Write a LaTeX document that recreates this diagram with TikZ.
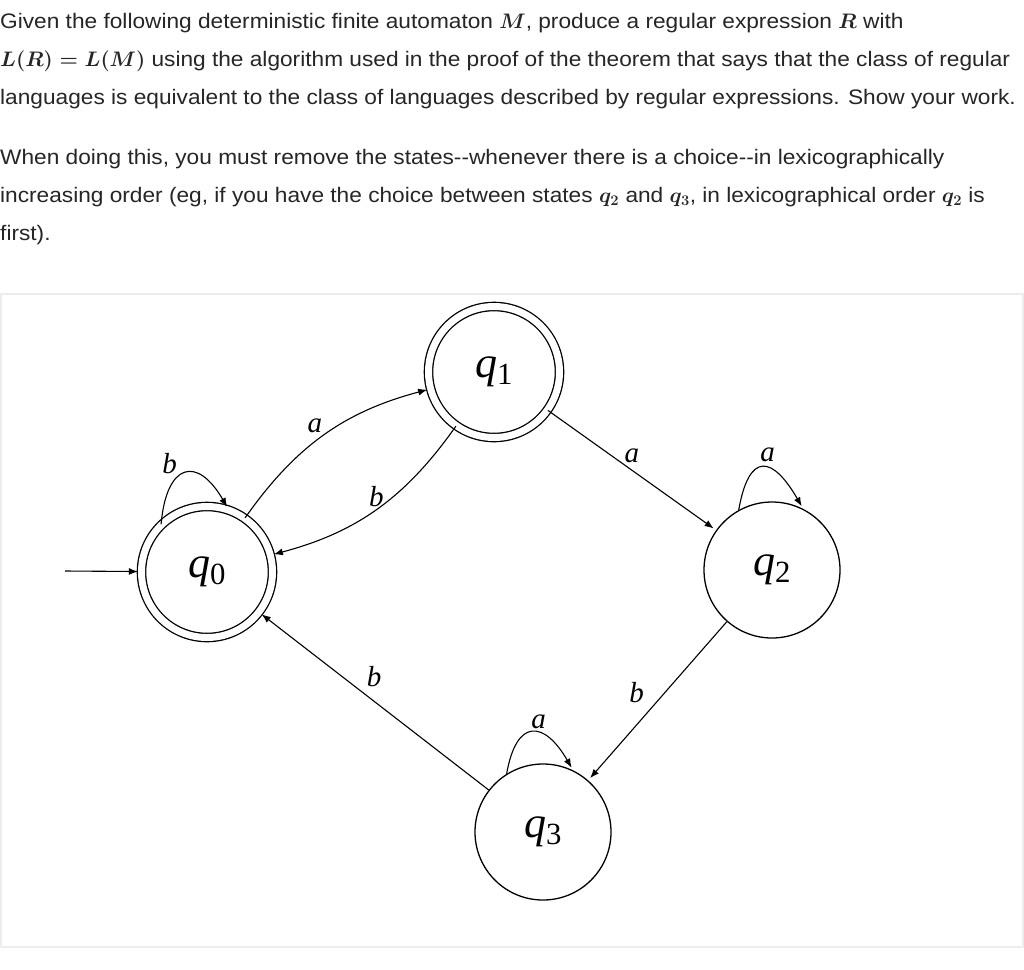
\documentclass[tikz,border=0pt]{standalone}
\usepackage{fix-cm}
\usepackage{amsmath,amssymb}
\usepackage[no-math]{fontspec}
\setmainfont{Liberation Sans}[FakeStretch=1.08]
\newfontfamily\lblfont{Liberation Serif}
\usetikzlibrary{arrows.meta}
\newcommand{\sq}[1]{q\textsubscript{\upshape#1}}

\begin{document}
\begin{tikzpicture}[x=1pt,y=-1pt,
    state/.style={circle,draw,line width=1.3pt,minimum size=136pt,inner sep=0pt,font=\lblfont\fontsize{44}{44}\selectfont\itshape},
    accepting/.style={double,double distance=7pt,minimum size=131pt},
    trans/.style={line width=1.1pt,shorten >=3pt,-{Latex[length=9pt,width=7pt]}},
    lbl/.style={inner sep=2pt,font=\lblfont\fontsize{29}{29}\selectfont\itshape},
    txt/.style={anchor=base west,inner sep=0pt,font=\fontsize{21}{24}\selectfont\boldmath,text=black!85}]
	\fill[white] (0,0) rectangle (1024,969);
	\draw[black!7,line width=1.5pt] (0.75,294) rectangle (1023,947);
	% question text
	\node[txt] (l1) at (0,28) {Given the following deterministic finite automaton $M$, produce a regular expression $R$ with};
	\node[txt] (l2) at (0,66) {$L(R) = L(M)$ using the algorithm used in the proof of the theorem that says that the class of regular};
	\node[txt] (l3) at (0,104) {languages is equivalent to the class of languages described by regular expressions. Show your work.};
	\node[txt] (l4) at (0,164) {When doing this, you must remove the states-\kern0pt-whenever there is a choice-\kern0pt-in lexicographically};
	\node[txt] (l5) at (0,202) {increasing order (eg, if you have the choice between states $q_2$ and $q_3$, in lexicographical order $q_2$ is};
	\node[txt] (l6) at (0,240) {first).};
	% states
	\node[state,accepting] (q0) at (207,572) {\sq{0}};
	\node[state,accepting] (q1) at (494,372) {\sq{1}};
	\node[state] (q2) at (772,570) {\sq{2}};
	\node[state] (q3) at (543,832) {\sq{3}};
	\coordinate (init) at (65,571);
	% transitions
	\draw[trans] (init) -- (q0);
	\draw[trans] (q0.134) to[out=85,in=120,looseness=2.3] node[lbl,pos=0.25,above=12pt] {b} (q0.71);
	\draw[trans] (q0) to[bend left=20] node[lbl,midway,above left] {a} (q1);
	\draw[trans] (q1) to[bend left=20] node[lbl,midway,above] {b} (q0);
	\draw[trans] (q1) -- node[lbl,midway,above=5pt] {a} (q2);
	\draw[trans] (q2.119) to[out=80,in=120,looseness=2.4] node[lbl,pos=0.56,above=4pt] {a} (q2.63);
	\draw[trans] (q2) -- node[lbl,pos=0.45,left=18pt] {b} (q3);
	\draw[trans] (q3.122) to[out=80,in=120,looseness=2.2] node[lbl,pos=0.58,above=2pt] {a} (q3.64);
	\draw[trans] (q3) -- node[lbl,midway,above=12pt] {b} (q0);
\end{tikzpicture}
\end{document}
